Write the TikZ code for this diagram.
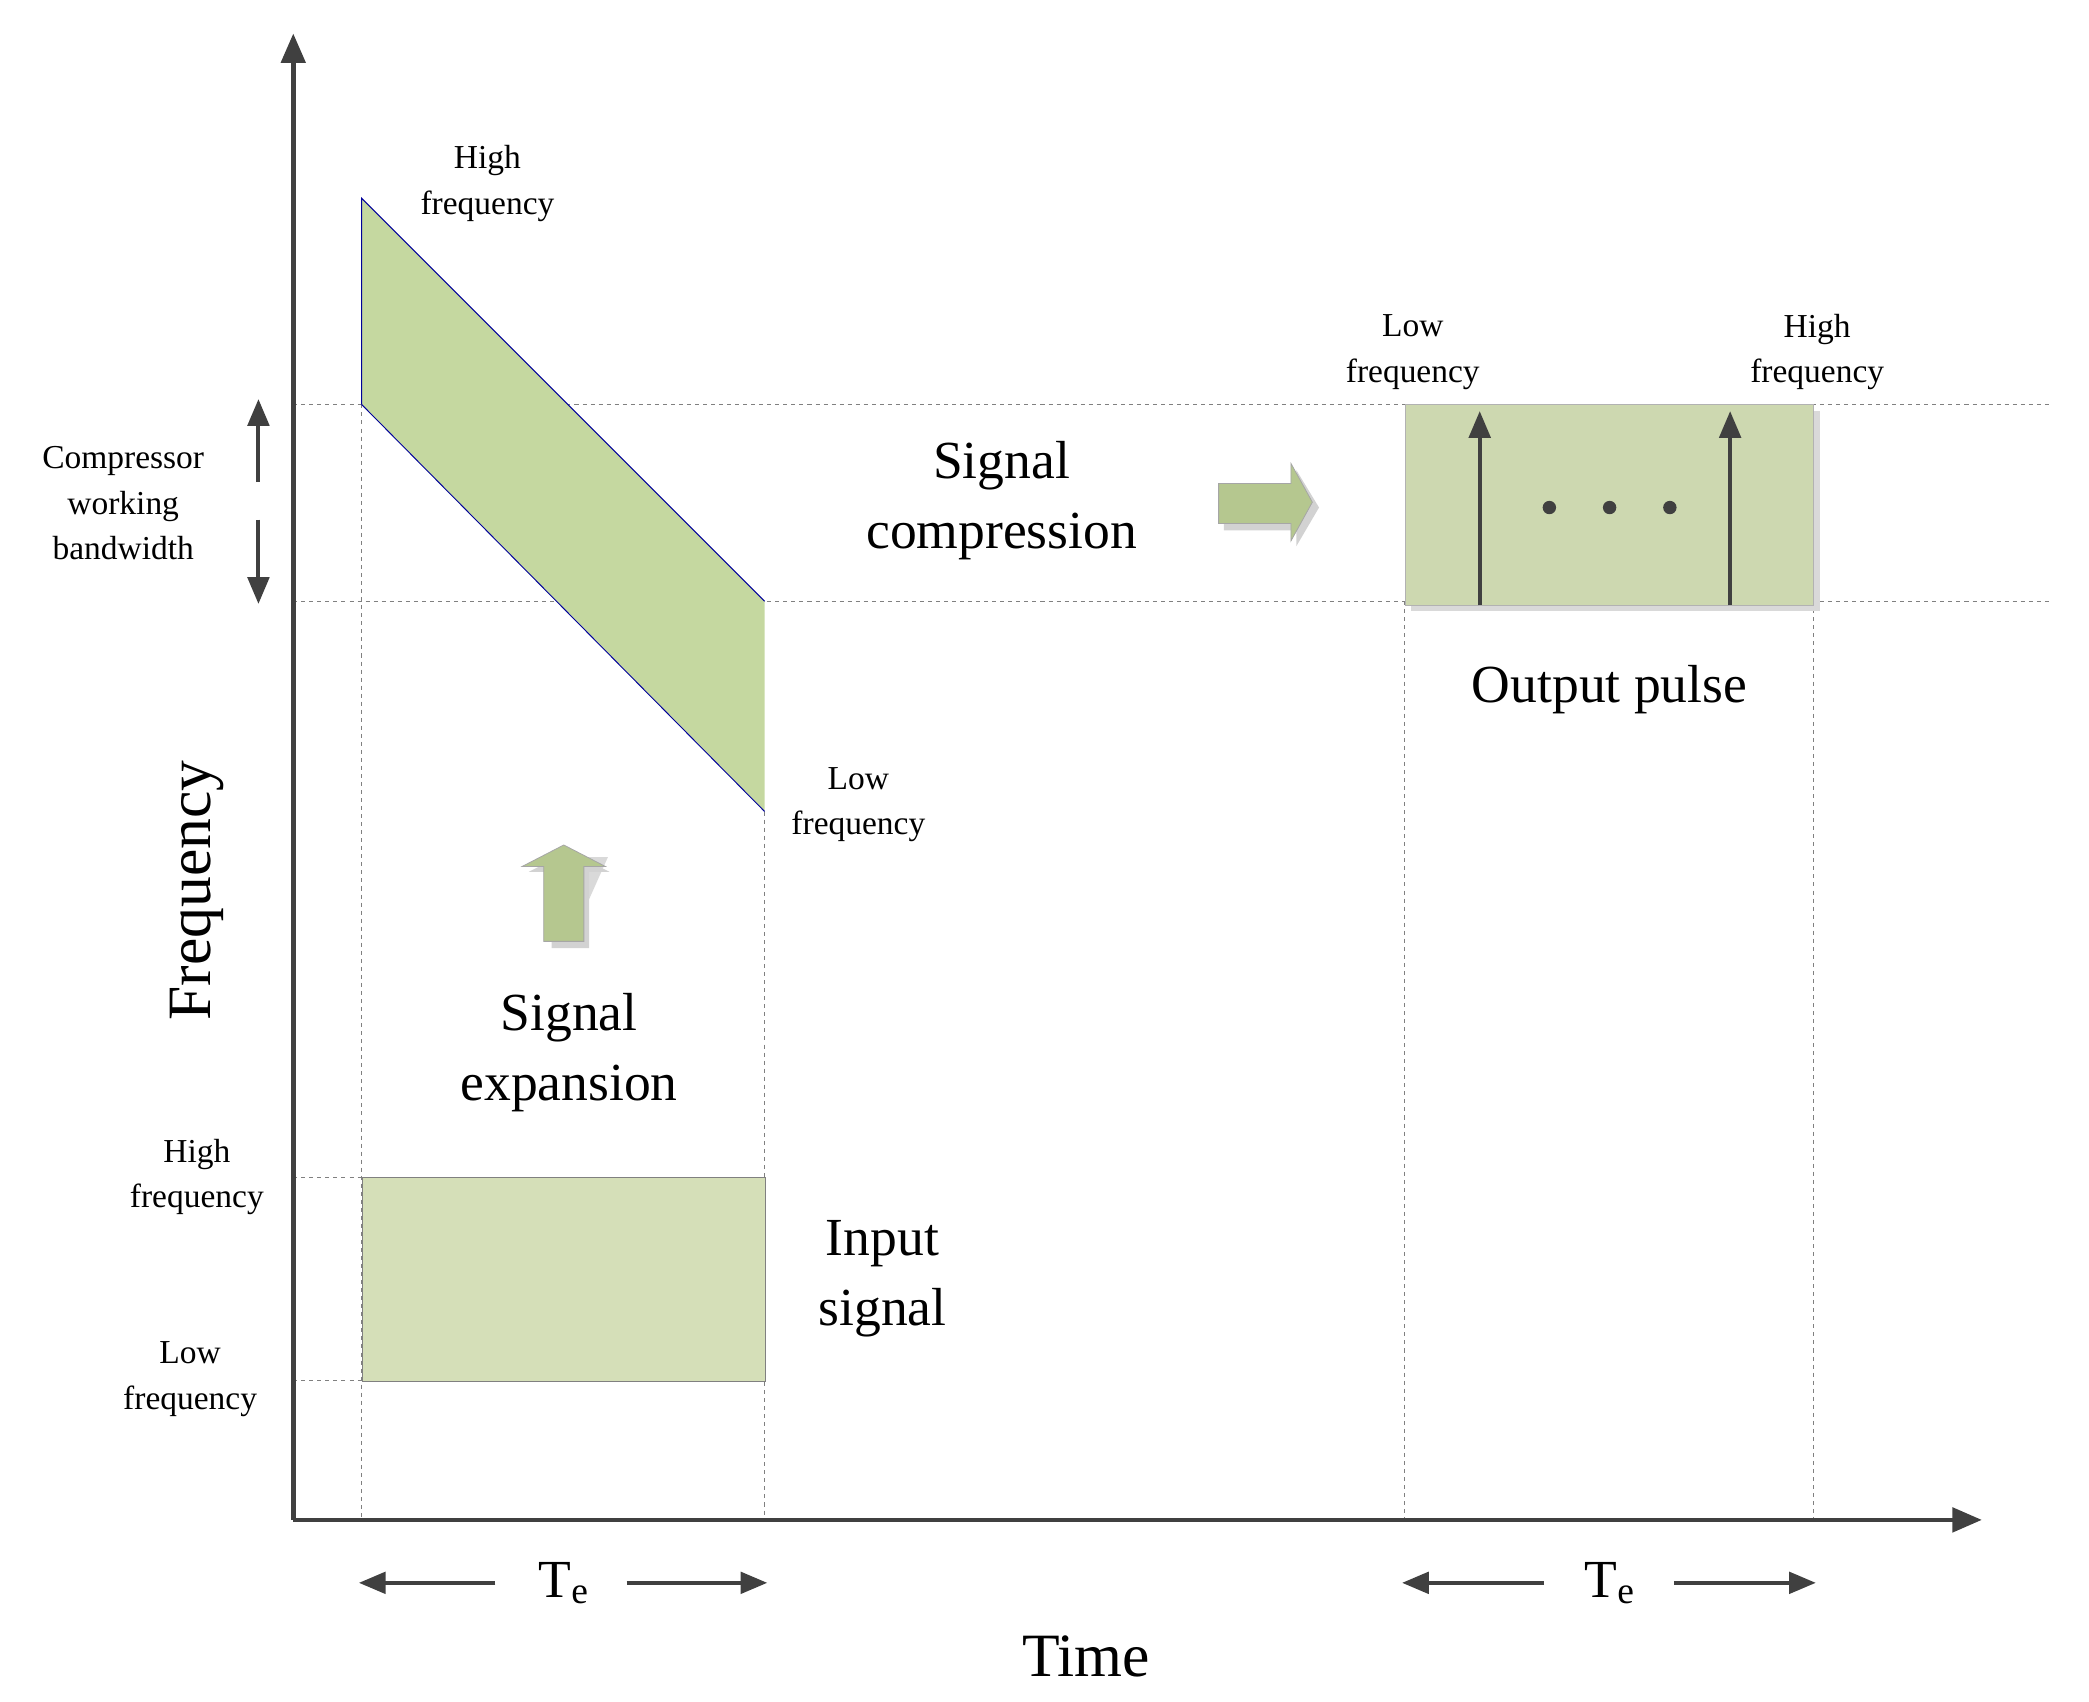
\documentclass[tikz,border=0pt]{standalone}
\usepackage{fontspec}
\setmainfont{Liberation Serif}
\usetikzlibrary{arrows.meta}
\definecolor{axc}{HTML}{404040}
\definecolor{gfill}{HTML}{C5D8A0}
\definecolor{gin}{HTML}{D5DFB8}
\definecolor{gout}{HTML}{CDD8B0}
\definecolor{barrow}{HTML}{B5C78F}
\tikzset{
 axis/.style={line width=3.5pt,draw=axc,-{Triangle[length=22pt,width=18pt]}},
 guide/.style={dashed,draw=gray,line width=0.8pt},
 thinarr/.style={line width=3pt,draw=axc,-{Triangle[length=20pt,width=16pt]}},
 small/.style={font=\fontsize{25}{34}\selectfont,align=center},
 big/.style={font=\fontsize{40}{52}\selectfont,align=center},
 blockarrow/.style={fill=barrow,draw=gray!70,line width=0.6pt}
}
\begin{document}
\begin{tikzpicture}[x=1pt,y=-1pt]
\useasboundingbox (0,0) rectangle (1560,1271);
% guides
\draw[guide] (219,302) -- (1530,302);
\draw[guide] (219,449) -- (1530,449);
\draw[guide] (270,302) -- (270,1135);
\draw[guide] (571,606) -- (571,1135);
\draw[guide] (219,879) -- (270,879);
\draw[guide] (219,1031) -- (270,1031);
\draw[guide] (1049,449) -- (1049,1135);
\draw[guide] (1354,449) -- (1354,1135);
% parallelogram
\fill[gfill] (270,148) -- (571,449) -- (571,606) -- (270,302) -- cycle;
\draw[blue!60!black,line width=0.7pt] (270,302) -- (270,148) -- (571,449);
\draw[blue!60!black,line width=0.7pt] (270,302) -- (571,606);
% input rect
\node[draw=gray,fill=gin,minimum width=301pt,minimum height=152pt,inner sep=0pt,anchor=north west] (inrect) at (270,879) {};
% output rect
\fill[gray!30] (1054,307) rectangle (1359,456);
\node[fill=gout,draw=gray!60,minimum width=305pt,minimum height=150pt,inner sep=0pt,anchor=north west] (outrect) at (1049,302) {};
\coordinate (a1b) at (1105,452); \coordinate (a1t) at (1105,307);
\coordinate (a2b) at (1292,452); \coordinate (a2t) at (1292,307);
\draw[thinarr] (a1b) -- (a1t);
\draw[thinarr] (a2b) -- (a2t);
\foreach \x in {1157,1202,1247} \fill[axc] (\x,379) circle (5pt);
% axes
\coordinate (o) at (219,1135);
\coordinate (yt) at (219,25);
\coordinate (xr) at (1480,1135);
\draw[axis] (o) -- (yt);
\draw[axis] (o) -- (xr);
% block arrow up
\fill[gray!30] (412,640) -- (454,640) -- (425,705) ; 
\fill[gray!35] (395,651) -- (425,636) -- (455,651) -- (440,651) -- (440,708) -- (412,708) -- (412,651) -- cycle;
\draw[blockarrow] (390,647) -- (421,631) -- (452,647) -- (436,647) -- (436,703) -- (406,703) -- (406,647) -- cycle;
% block arrow right
\fill[gray!35] (914,366) -- (968,366) -- (968,351) -- (985,379) -- (968,408) -- (968,396) -- (914,396) -- cycle;
\draw[blockarrow] (910,361) -- (964,361) -- (964,346) -- (980,375) -- (964,404) -- (964,391) -- (910,391) -- cycle;
% compressor arrows
\coordinate (cu1) at (193,360); \coordinate (cu2) at (193,298);
\coordinate (cd1) at (193,388); \coordinate (cd2) at (193,451);
\draw[thinarr] (cu1) -- (cu2);
\draw[thinarr] (cd1) -- (cd2);
% Te arrows
\node[big] (te1) at (421,1182) {T\textsubscript{e}};
\node[big] (te2) at (1202,1182) {T\textsubscript{e}};
\coordinate (l1) at (370,1182); \coordinate (l1e) at (268,1182);
\coordinate (r1) at (468,1182); \coordinate (r1e) at (573,1182);
\coordinate (l2) at (1153,1182); \coordinate (l2e) at (1047,1182);
\coordinate (r2) at (1250,1182); \coordinate (r2e) at (1356,1182);
\draw[thinarr] (l1) -- (l1e);
\draw[thinarr] (r1) -- (r1e);
\draw[thinarr] (l2) -- (l2e);
\draw[thinarr] (r2) -- (r2e);
% texts
\node[small] (t1) at (364,137) {High\\frequency};
\node[small] (t2) at (641,601) {Low\\frequency};
\node[small] (t3) at (1055,263) {Low\\frequency};
\node[small] (t4) at (1357,263) {High\\frequency};
\node[small] (t5) at (147,879) {High\\frequency};
\node[small] (t6) at (142,1030) {Low\\frequency};
\node[small] (t7) at (92,376) {Compressor\\working\\bandwidth};
\node[big] (s1) at (748,374) {Signal\\compression};
\node[big] (s2) at (425,786) {Signal\\expansion};
\node[big] (s3) at (659,955) {Input\\signal};
\node[big] (s4) at (1202,515) {Output pulse};
\node[font=\fontsize{46}{52}\selectfont] (time) at (811,1237) {Time};
\node[font=\fontsize{46}{52}\selectfont,rotate=90] (freq) at (147,665) {Frequency};
\end{tikzpicture}
\end{document}
